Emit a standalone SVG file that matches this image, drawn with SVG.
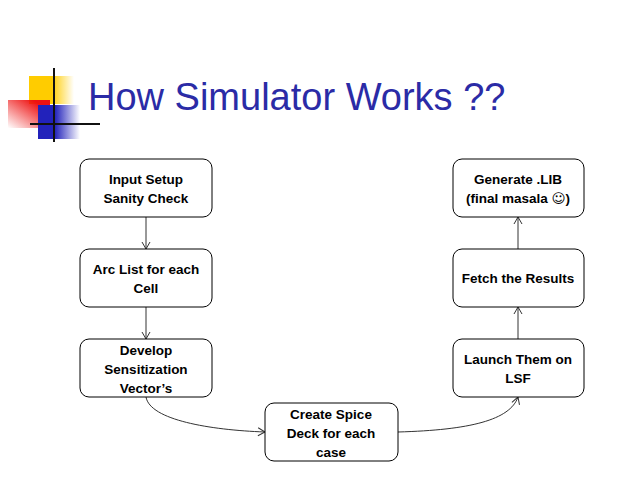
<svg xmlns="http://www.w3.org/2000/svg" width="638" height="478" viewBox="0 0 638 478">
<style>
.b{fill:#fff;stroke:#000;stroke-width:1}
.t{font-family:"Liberation Sans",Arial,sans-serif;font-weight:bold;font-size:13.5px;fill:#000;text-anchor:middle}
.c{fill:none;stroke:#333;stroke-width:1;marker-end:url(#a)}
</style>
<defs>
<marker id="a" markerWidth="10" markerHeight="10" refX="8" refY="5" orient="auto" markerUnits="userSpaceOnUse"><path d="M1,1 L8,5 L1,9" fill="none" stroke="#333" stroke-width="1"/></marker>
<linearGradient id="gy" x1="0" x2="1"><stop offset="0.5" stop-color="#ffcc00"/><stop offset="1" stop-color="#ffcc00" stop-opacity="0"/></linearGradient>
<linearGradient id="gb" x1="0" x2="1"><stop offset="0.4" stop-color="#2222bb"/><stop offset="1" stop-color="#2222bb" stop-opacity="0"/></linearGradient>
<linearGradient id="gr" x1="1" y1="0" x2="0" y2="1"><stop offset="0.2" stop-color="#ee1111"/><stop offset="1" stop-color="#ee1111" stop-opacity="0"/></linearGradient>
</defs>
<rect width="638" height="478" fill="#fff"/>
<g id="logo">
<rect x="29" y="76" width="45" height="28" fill="url(#gy)"/>
<rect x="8" y="100" width="42" height="28" fill="url(#gr)"/>
<rect x="38" y="105" width="42" height="34" fill="url(#gb)"/>
<line x1="54" y1="68" x2="54" y2="142" stroke="#111" stroke-width="2"/>
<line x1="30" y1="124" x2="100" y2="124" stroke="#111" stroke-width="2"/>
</g>
<text x="88" y="110" font-family="Liberation Sans,Arial,sans-serif" font-size="38" fill="#2b2ba6">How Simulator Works ??</text>
<g id="connectors">
<path class="c" d="M146,217 V249"/>
<path class="c" d="M146,307 V339"/>
<path class="c" d="M146,397 C150,420 210,430 265,432"/>
<path class="c" d="M398,432 C470,430 510,420 518,397"/>
<path class="c" d="M518,339 V307"/>
<path class="c" d="M518,249 V217"/>
</g>
<g id="n1"><rect class="b" x="80" y="159" width="132" height="58" rx="9"/><text class="t" x="146" y="184">Input Setup</text><text class="t" x="146" y="203">Sanity Check</text></g>
<g id="n2"><rect class="b" x="80" y="249" width="132" height="58" rx="9"/><text class="t" x="146" y="274">Arc List for each</text><text class="t" x="146" y="293">Cell</text></g>
<g id="n3"><rect class="b" x="80" y="339" width="132" height="58" rx="9"/><text class="t" x="146" y="355">Develop</text><text class="t" x="146" y="374">Sensitization</text><text class="t" x="146" y="393">Vector’s</text></g>
<g id="n4"><rect class="b" x="265" y="403" width="133" height="58" rx="9"/><text class="t" x="331" y="419">Create Spice</text><text class="t" x="331" y="438">Deck for each</text><text class="t" x="331" y="457">case</text></g>
<g id="n5"><rect class="b" x="453" y="339" width="131" height="58" rx="9"/><text class="t" x="518" y="364">Launch Them on</text><text class="t" x="518" y="383">LSF</text></g>
<g id="n6"><rect class="b" x="453" y="249" width="131" height="58" rx="9"/><text class="t" x="518" y="283">Fetch the Results</text></g>
<g id="n7"><rect class="b" x="453" y="159" width="131" height="58" rx="9"/><text class="t" x="518" y="184">Generate .LIB</text><text class="t" x="518" y="203">(final masala <tspan font-family="DejaVu Sans" font-weight="normal">☺</tspan>)</text></g>
</svg>
